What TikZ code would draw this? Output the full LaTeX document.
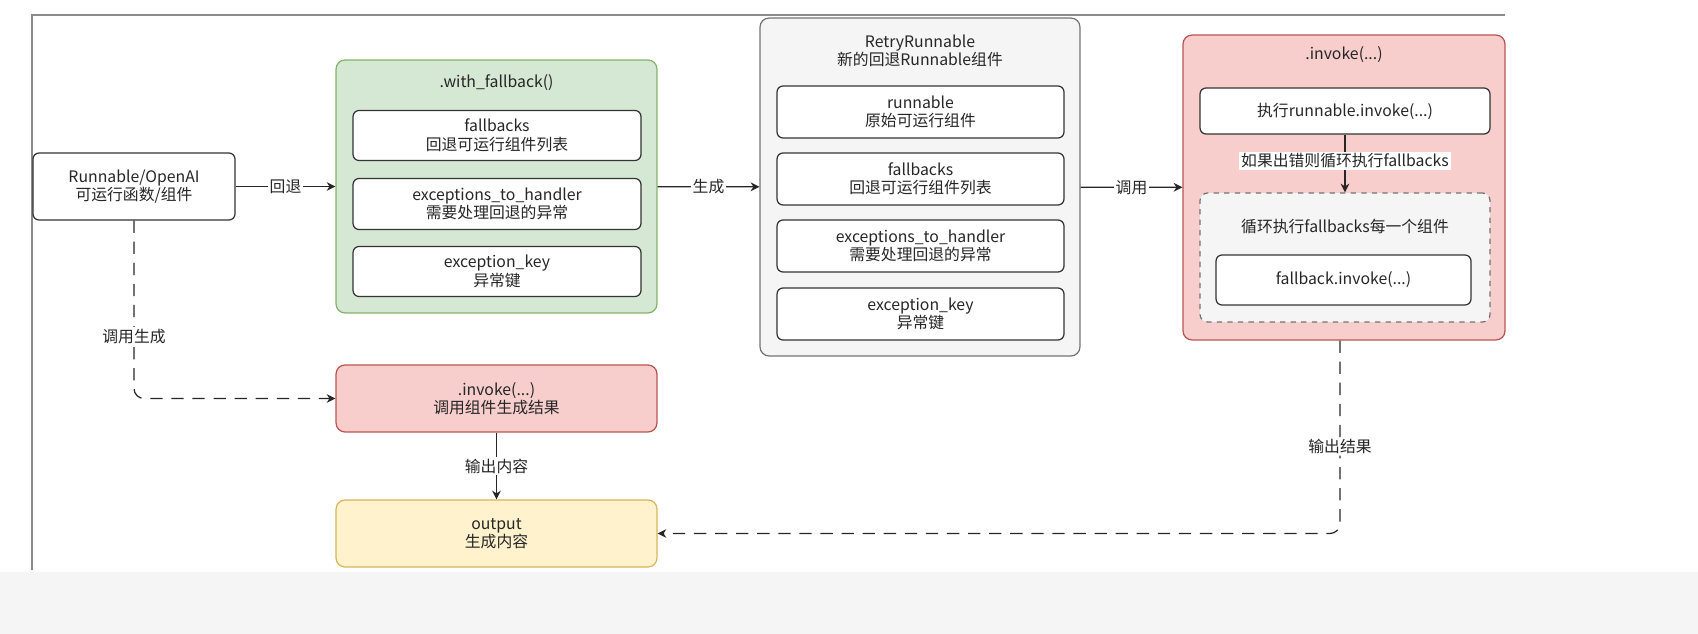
\documentclass[tikz,border=0pt]{standalone}
\usepackage{fontspec}
\setmainfont{Noto Sans CJK SC}
\usetikzlibrary{arrows.meta}
\begin{document}
\begin{tikzpicture}[x=0.02cm,y=-0.02cm,
  font=\fontsize{9}{10.5}\selectfont,
  box/.style={draw=black!80,fill=white,rounded corners=0.12cm,line width=0.7pt,align=center,inner sep=1pt,text=black!85},
  grp/.style={rounded corners=0.18cm,line width=0.7pt},
  lbl/.style={fill=white,inner sep=1pt,text=black!85},
  arr/.style={-{Stealth[length=5pt,width=5pt]},line width=0.7pt,black!85},
  dsh/.style={dash pattern=on 7pt off 5pt}]
\useasboundingbox (0,0) rectangle (1698,634);
% frame
\fill[black!4] (0,572) rectangle (1698,634);
\draw[black!45,line width=0.6pt] (32,570) -- (32,15) -- (1505,15);
% left node
\node[box,minimum width=4.04cm,minimum height=1.34cm] (run) at (134,186.5) {Runnable/OpenAI\\可运行函数/组件};
% green group
\node[grp,draw={rgb,255:red,130;green,179;blue,102},fill={rgb,255:red,213;green,232;blue,212},minimum width=6.42cm,minimum height=5.06cm] (wf) at (496.5,186.5) {};
\node[text=black!85] (wft) at (496.5,83) {.with\_fallback()};
\node[box,minimum width=5.76cm,minimum height=1.0cm] (g1) at (497,135.5) {fallbacks\\回退可运行组件列表};
\node[box,minimum width=5.76cm,minimum height=1.02cm] (g2) at (497,204) {exceptions\_to\_handler\\需要处理回退的异常};
\node[box,minimum width=5.76cm,minimum height=1.0cm] (g3) at (497,271.5) {exception\_key\\异常键};
% gray group
\node[grp,draw=black!55,fill=black!4,minimum width=6.4cm,minimum height=6.76cm] (rr) at (920,187) {};
\node[text=black!85,align=center] (rrt) at (920,51) {RetryRunnable\\新的回退Runnable组件};
\node[box,minimum width=5.74cm,minimum height=1.04cm] (r1) at (920.5,112) {runnable\\原始可运行组件};
\node[box,minimum width=5.74cm,minimum height=1.04cm] (r2) at (920.5,179) {fallbacks\\回退可运行组件列表};
\node[box,minimum width=5.74cm,minimum height=1.04cm] (r3) at (920.5,246) {exceptions\_to\_handler\\需要处理回退的异常};
\node[box,minimum width=5.74cm,minimum height=1.04cm] (r4) at (920.5,314) {exception\_key\\异常键};
% red group
\node[grp,draw={rgb,255:red,184;green,84;blue,80},fill={rgb,255:red,248;green,206;blue,204},minimum width=6.44cm,minimum height=6.1cm] (inv) at (1344,187.5) {};
\node[text=black!85] (invt) at (1344,55) {.invoke(...)};
\node[box,minimum width=5.8cm,minimum height=0.92cm] (ex) at (1345,111) {执行runnable.invoke(...)};
\node[draw=black!55,dashed,fill=black!4,rounded corners=0.15cm,minimum width=5.8cm,minimum height=2.58cm,line width=0.7pt] (loop) at (1345,257.5) {};
\node[text=black!85] (loopt) at (1345,227) {循环执行fallbacks每一个组件};
\node[box,minimum width=5.1cm,minimum height=1.0cm] (fb) at (1343.5,280) {fallback.invoke(...)};
\draw[arr] (ex) -- node[lbl,pos=0.45]{如果出错则循环执行fallbacks} (loop);
% bottom nodes
\node[grp,draw={rgb,255:red,184;green,84;blue,80},fill={rgb,255:red,248;green,206;blue,204},minimum width=6.42cm,minimum height=1.34cm,align=center,text=black!85] (inv2) at (496.5,398.5) {.invoke(...)\\调用组件生成结果};
\node[grp,draw={rgb,255:red,214;green,182;blue,86},fill={rgb,255:red,255;green,242;blue,204},minimum width=6.42cm,minimum height=1.34cm,align=center,text=black!85] (out) at (496.5,533.5) {output\\生成内容};
% connectors
\draw[arr] (run) -- node[lbl]{回退} (wf);
\draw[arr] (wf) -- node[lbl]{生成} (rr);
\draw[arr] (rr) -- node[lbl]{调用} (inv);
\coordinate (c1) at (134,398.5);
\draw[arr,dsh,rounded corners=0.2cm] (run.south) -- node[lbl,pos=0.65]{调用生成} (c1) -- (inv2.west);
\draw[arr] (inv2) -- node[lbl]{输出内容} (out);
\coordinate (c2) at (1340,533.5);
\draw[arr,dsh,rounded corners=0.2cm] (inv.south -| c2) -- node[lbl,pos=0.55]{输出结果} (c2) -- (out.east);
\end{tikzpicture}
\end{document}
